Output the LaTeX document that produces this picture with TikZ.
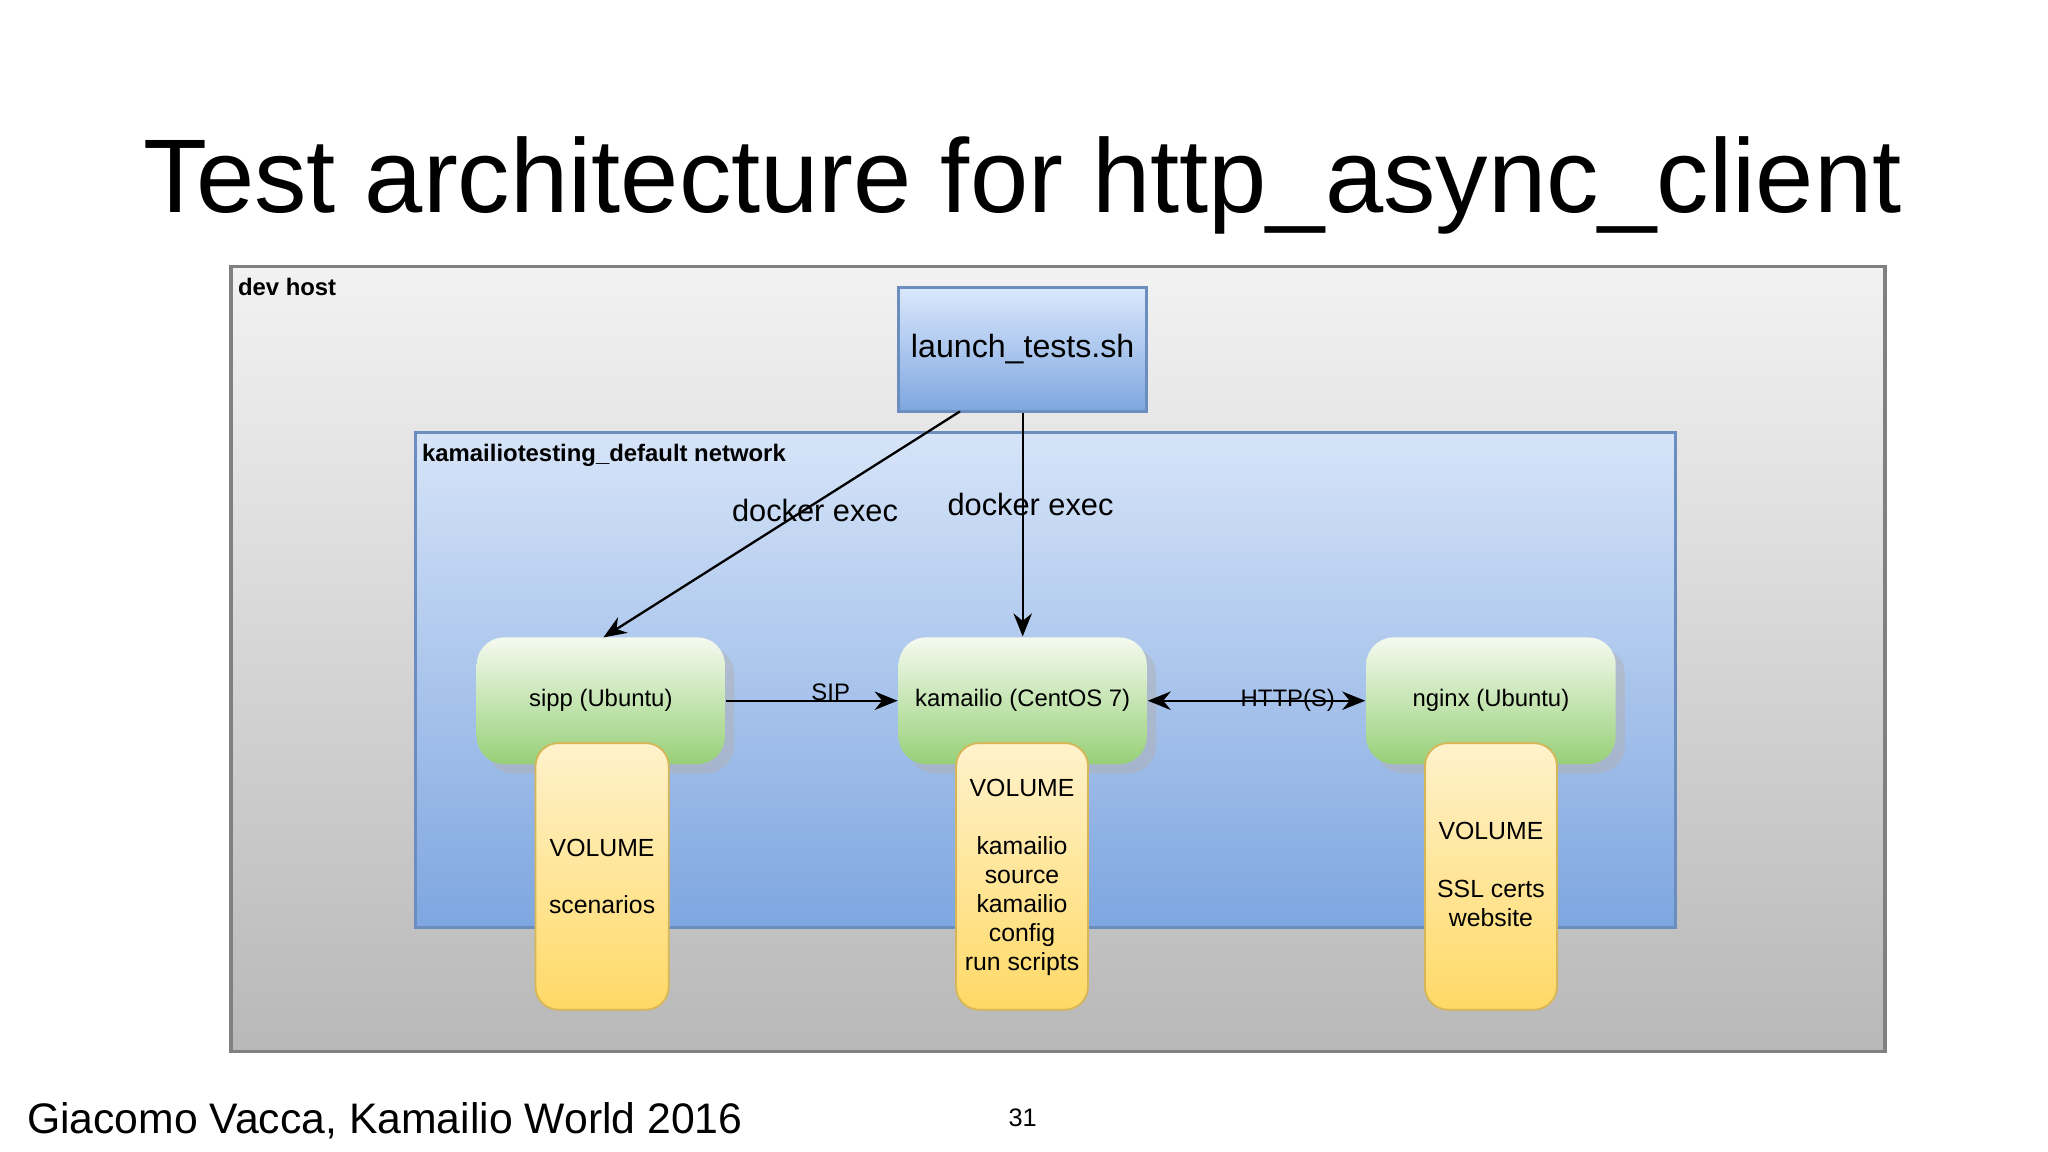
\documentclass[tikz,border=0pt]{standalone}
\usepackage{fontspec}
\setmainfont{Liberation Sans}
\usetikzlibrary{shadows,arrows.meta}
\definecolor{gborder}{HTML}{808080}
\definecolor{bborder}{HTML}{6C8EBF}
\tikzset{
 px/.style={x=0.01cm,y=-0.01cm},
 greenbox/.style={draw=none,rounded corners=6pt,inner sep=1pt,
   top color={rgb,255:red,245;green,250;blue,240},bottom color={rgb,255:red,151;green,208;blue,119},
   drop shadow={shadow xshift=2pt,shadow yshift=-2pt,fill=black!30}},
 vol/.style={draw={rgb,255:red,214;green,182;blue,86},rounded corners=5pt,
   top color={rgb,255:red,255;green,242;blue,204},bottom color={rgb,255:red,255;green,217;blue,102}},
 voltext/.style={align=center,inner sep=0pt,font=\fontsize{5.4}{6.3}\selectfont},
 lbl/.style={font=\fontsize{5.2}{6}\selectfont},
 arr/.style={-{Stealth[length=5pt,width=4pt]},line width=0.5pt},
}
\begin{document}
\begin{tikzpicture}[px]
\useasboundingbox[fill=white] (0,0) rectangle (1568,882);
\node[font=\fontsize{22.8}{27}\selectfont] (title) at (783,142) {Test architecture for http\_async\_client};
% dev host
\path[draw=gborder,line width=0.8pt,top color={rgb,255:red,242;green,242;blue,242},bottom color={rgb,255:red,184;green,184;blue,184}] (177,204) rectangle (1443,805);
\node[anchor=north west,font=\bfseries\fontsize{5.2}{6}\selectfont,inner sep=1pt] (dev) at (178,209) {dev host};
% network
\path[draw=bborder,line width=0.6pt,top color={rgb,255:red,214;green,228;blue,248},bottom color={rgb,255:red,126;green,166;blue,224}] (318,331) rectangle (1283,710);
\node[anchor=north west,font=\bfseries\fontsize{5.2}{6}\selectfont,inner sep=1pt] (net) at (319,336) {kamailiotesting\_default network};
% launch
\node[draw=bborder,line width=0.6pt,top color={rgb,255:red,218;green,232;blue,252},bottom color={rgb,255:red,126;green,166;blue,224},minimum width=1.9cm,minimum height=0.95cm,inner xsep=1pt,font=\fontsize{7}{8}\selectfont] (launch) at (783,267.5) {launch\_tests.sh};
% green boxes
\node[greenbox,minimum width=1.9cm,minimum height=0.97cm,lbl] (sipp) at (460,536.5) {sipp (Ubuntu)};
\node[greenbox,minimum width=1.9cm,minimum height=0.97cm,lbl] (kam) at (783,536.5) {kamailio (CentOS 7)};
\node[greenbox,minimum width=1.91cm,minimum height=0.97cm,lbl] (ngx) at (1141.5,536.5) {nginx (Ubuntu)};
% volumes
\node[vol,minimum width=1.02cm,minimum height=2.04cm] (v1) at (461,671) {};
\node[voltext] (v1t) at (461,671) {VOLUME\\[6.3pt]scenarios};
\node[vol,minimum width=1.01cm,minimum height=2.04cm] (v2) at (782.5,671) {};
\node[voltext,anchor=north] (v2t) at (782.5,596) {VOLUME\\[6.3pt]kamailio\\source\\kamailio\\config\\run scripts};
\node[vol,minimum width=1.01cm,minimum height=2.04cm] (v3) at (1141.5,671) {};
\node[voltext,anchor=north] (v3t) at (1141.5,629) {VOLUME\\[6.3pt]SSL certs\\website};
% arrows
\coordinate (ls) at (735,315);
\coordinate (se) at (462,488);
\draw[arr] (ls) -- (se);
\draw[arr] (launch.south) -- (kam.north);
\node[font=\fontsize{6.7}{8}\selectfont] (d1) at (624,391) {docker exec};
\node[font=\fontsize{6.7}{8}\selectfont] (d2) at (789,386) {docker exec};
\draw[arr] (sipp.east) -- (kam.west);
\node[lbl,inner sep=0pt] (sip) at (636,530) {SIP};
\draw[arr,{Stealth[length=5pt,width=4pt]}-{Stealth[length=5pt,width=4pt]}] (kam.east) -- (ngx.west);
\node[lbl,inner sep=0pt] (http) at (986,536) {HTTP(S)};
% footer
\node[anchor=west,font=\fontsize{9.3}{11}\selectfont,inner sep=0pt] (foot) at (20,858) {Giacomo Vacca, Kamailio World 2016};
\node[font=\fontsize{5.5}{6}\selectfont] (pg) at (783,856) {31};
\end{tikzpicture}
\end{document}
